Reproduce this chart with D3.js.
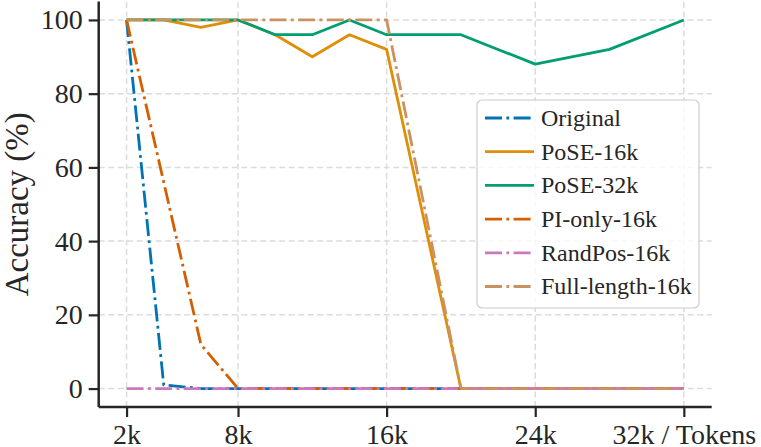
<!DOCTYPE html>
<html>
<head>
<meta charset="utf-8">
<script src="https://cdn.jsdelivr.net/npm/d3@7"></script>
<style>
  body { margin: 0; background: #fff; }
  svg { display: block; }
  text { font-family: "Liberation Serif", "Times New Roman", serif; fill: #262626; }
</style>
</head>
<body>
<svg id="chart" width="761" height="447"></svg>
<script>
// context length in k tokens
const lengths = [2, 4, 6, 8, 10, 12, 14, 16, 20, 24, 28, 32];

const original    = [100, 1, 0, 0, 0, 0, 0, 0, 0, 0, 0, 0];
const pose16k     = [100, 100, 98, 100, 96, 90, 96, 92, 0, 0, 0, 0];
const pose32k     = [100, 100, 100, 100, 96, 96, 100, 96, 96, 88, 92, 100];
const piOnly16k   = [100, 56, 12, 0, 0, 0, 0, 0, 0, 0, 0, 0];
const randPos16k  = [0, 0, 0, 0, 0, 0, 0, 0, 0, 0, 0, 0];
const fullLen16k  = [100, 100, 100, 100, 100, 100, 100, 100, 0, 0, 0, 0];

const xTicks = [2, 8, 16, 24, 32];
const xTickLabels = ["2k", "8k", "16k", "24k", "32k / Tokens"];
const yTicks = [0, 20, 40, 60, 80, 100];

const series = [
    { name: "Original",       values: original,   color: "#0173b2", dashed: true },
    { name: "PoSE-16k",       values: pose16k,    color: "#de8f05", dashed: false },
    { name: "PoSE-32k",       values: pose32k,    color: "#029e73", dashed: false },
    { name: "PI-only-16k",    values: piOnly16k,  color: "#d55e00", dashed: true },
    { name: "RandPos-16k",    values: randPos16k, color: "#cc78bc", dashed: true },
    { name: "Full-length-16k",values: fullLen16k, color: "#ca9161", dashed: true }
];

const lw = 2.8,
    dashDot = "17,4.4,2.8,4.4";

const margin = { left: 98.7, right: 49.3, top: 1.5, bottom: 40 };
const width = 761, height = 447;

const svg = d3.select("#chart");

const x = d3.scaleLinear().domain([0.5, 33.5]).range([margin.left, width - margin.right]);
const y = d3.scaleLinear().domain([-5, 105]).range([height - margin.bottom, margin.top]);

/* grid */
const grid = svg.append("g").attr("class", "grid");
grid.selectAll(".vgrid").data(xTicks).enter().append("line")
    .attr("x1", d => x(d)).attr("x2", d => x(d))
    .attr("y1", y(-5)).attr("y2", y(105))
    .attr("stroke", "#dcdcdc").attr("stroke-width", 1.5)
    .attr("stroke-dasharray", "6,3.5");
grid.selectAll(".hgrid").data(yTicks).enter().append("line")
    .attr("x1", x(0.5)).attr("x2", x(33.5))
    .attr("y1", d => y(d)).attr("y2", d => y(d))
    .attr("stroke", "#dcdcdc").attr("stroke-width", 1.5)
    .attr("stroke-dasharray", "6,3.5");

/* lines */
const line = d3.line()
    .x((d, i) => x(lengths[i]))
    .y(d => y(d));

svg.append("g").selectAll("path").data(series).enter().append("path")
    .attr("d", d => line(d.values))
    .attr("fill", "none")
    .attr("stroke", d => d.color)
    .attr("stroke-width", lw)
    .attr("stroke-linejoin", "round")
    .attr("stroke-dasharray", d => d.dashed ? dashDot : null);

/* axes */
const xAxis = svg.append("g")
    .attr("transform", "translate(0," + y(-5) + ")")
    .call(d3.axisBottom(x).tickValues(xTicks).tickSize(10).tickPadding(7)
        .tickFormat((d, i) => xTickLabels[i]));
const yAxis = svg.append("g")
    .attr("transform", "translate(" + x(0.5) + ",0)")
    .call(d3.axisLeft(y).tickValues(yTicks).tickSize(10).tickPadding(6));

[xAxis, yAxis].forEach(a => {
    a.select(".domain").attr("stroke", "#262626").attr("stroke-width", 2.5)
        .attr("d", a === xAxis ? "M" + x(0.5) + ",0H" + x(33.5) : "M0," + y(-5) + "V" + y(105));
    a.selectAll(".tick line").attr("stroke", "#262626").attr("stroke-width", 2.2);
    a.selectAll(".tick text").style("font-size", "28px").attr("fill", "#262626");
});
xAxis.selectAll(".tick text").attr("dy", "0.7em");

svg.append("text")
    .attr("transform", "translate(28," + y(50) + ") rotate(-90)")
    .attr("text-anchor", "middle")
    .style("font-size", "33px")
    .text("Accuracy (%)");

/* legend */
const lg = svg.append("g").attr("transform", "translate(477,100)");
lg.append("rect")
    .attr("width", 222).attr("height", 208)
    .attr("rx", 5).attr("ry", 5)
    .attr("fill", "#fff").attr("fill-opacity", 0.8)
    .attr("stroke", "#cccccc").attr("stroke-width", 1.2);

const item = lg.selectAll(".item").data(series).enter().append("g")
    .attr("transform", (d, i) => "translate(0," + (18 + i * 33.7) + ")");
item.append("line")
    .attr("x1", 8).attr("x2", 57)
    .attr("stroke", d => d.color)
    .attr("stroke-width", lw)
    .attr("stroke-dasharray", d => d.dashed ? dashDot : null);
item.append("text")
    .attr("x", 64).attr("dy", "0.33em")
    .style("font-size", "24px")
    .text(d => d.name);
</script>
</body>
</html>
